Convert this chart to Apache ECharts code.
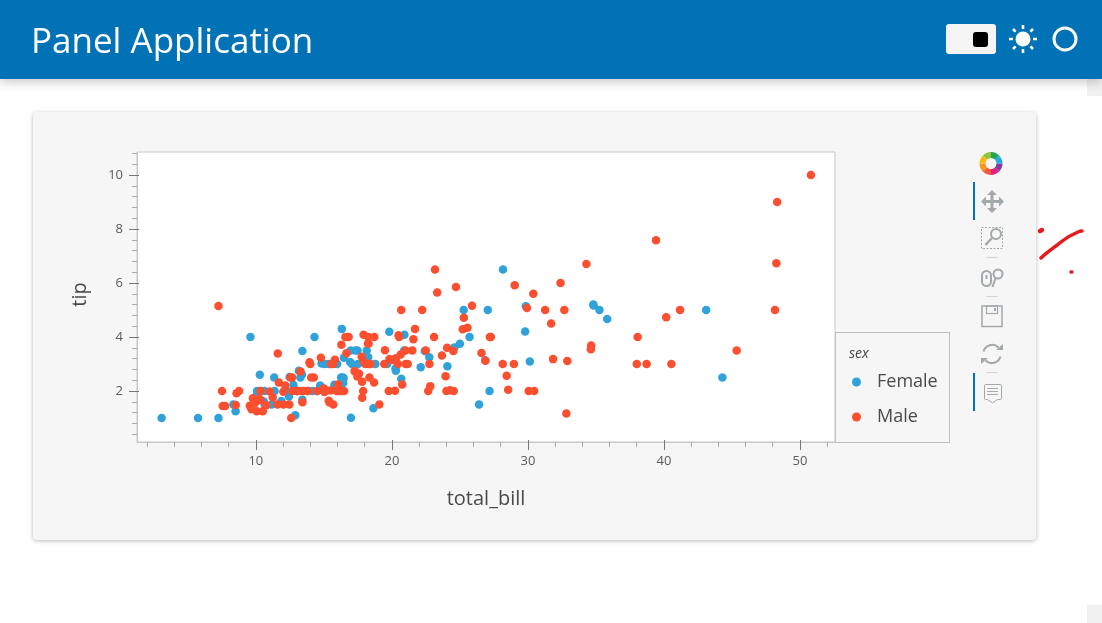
<!DOCTYPE html>
<html>
<head>
<meta charset="utf-8">
<script src="https://cdn.jsdelivr.net/npm/echarts@6/dist/echarts.min.js"></script>
<style>
html,body{margin:0;padding:0;width:1102px;height:623px;overflow:hidden;background:#fff;font-family:"Open Sans",sans-serif}
#hdr{position:absolute;left:0;top:0;width:1102px;height:79px;background:#0072b5;box-shadow:0 3px 10px rgba(0,0,0,.22);z-index:3}
#ttl{position:absolute;left:31px;top:18px;font-size:35px;line-height:44px;color:#fff;white-space:nowrap}
#sb1{position:absolute;left:1087px;top:79px;width:15px;height:17px;background:#f1f1f1}
#sb2{position:absolute;left:1087px;top:605px;width:15px;height:18px;background:#f1f1f1}
#card{position:absolute;left:33px;top:112px;width:1003px;height:428px;background:#f6f6f6;border-radius:4px;box-shadow:0 1px 4px rgba(0,0,0,.28)}
#plotbg{position:absolute;left:137px;top:152px;width:698px;height:290px;background:#fff}
#lgbox{position:absolute;left:835px;top:332px;width:113px;height:109px;border:1px solid #bdbdbd;background:#f6f6f6}
#chart{position:absolute;left:0;top:0;width:1102px;height:623px}
svg{position:absolute;left:0;top:0}
</style>
</head>
<body>
<div id="sb1"></div><div id="sb2"></div>
<div id="card"></div>
<div id="plotbg"></div>
<div id="lgbox"></div>
<div id="chart"></div>
<div id="hdr"><div id="ttl">Panel Application</div></div>
<svg width="1102" height="623" viewBox="0 0 1102 623" style="z-index:4;pointer-events:none">
  <!-- header controls -->
  <rect x="946" y="24" width="50" height="30" rx="3" fill="#f5f5f5"/>
  <rect x="973" y="32" width="15" height="15" rx="3" fill="#000"/>
  <circle cx="1023" cy="39" r="7.5" fill="#fff"/>
  <g stroke="#fff" stroke-width="2.6" stroke-linecap="butt">
    <path d="M1023 25v4M1023 49v4M1009 39h4M1033 39h4M1013 29l2.6 2.6M1033 29l-2.6 2.6M1013 49l2.6-2.6M1033 49l-2.6-2.6"/>
  </g>
  <circle cx="1065" cy="39" r="11" fill="none" stroke="#fff" stroke-width="3"/>
  <!-- toolbar logo -->
  <g fill="none" stroke-width="6">
    <path d="M991 155a8.500 8.500 0 0 1 6 2.500" stroke="#23a455"/>
    <path d="M997 157.500a8.500 8.500 0 0 1 2.500 6" stroke="#27aae1"/>
    <path d="M999.500 163.500a8.500 8.500 0 0 1-2.500 6" stroke="#7a3fa0"/>
    <path d="M997 169.500a8.500 8.500 0 0 1-6 2.500" stroke="#e6207e"/>
    <path d="M991 172a8.500 8.500 0 0 1-6-2.500" stroke="#f15a40"/>
    <path d="M985 169.500a8.500 8.500 0 0 1-2.500-6" stroke="#f7941d"/>
    <path d="M982.500 163.500a8.500 8.500 0 0 1 2.500-6" stroke="#fdb913"/>
    <path d="M985 157.500a8.500 8.500 0 0 1 6-2.500" stroke="#8dc63f"/>
  </g>
  <!-- active bars and separators -->
  <rect x="973" y="182" width="2" height="38" fill="#0072b5"/>
  <rect x="973" y="373" width="2" height="38" fill="#0072b5"/>
  <path d="M986 257.500h12M986 296.500h12M986 372.500h12" stroke="#d5d5d5" stroke-width="1"/>
  <!-- pan -->
  <g fill="#a3a8ab">
    <rect x="990.500" y="193" width="3" height="17"/><rect x="983" y="200" width="18" height="3"/>
    <path d="M992 190l5 5h-10zM992 213l5-5h-10zM981 201.500l5-5v10zM1004 201.500l-5-5v10z"/>
  </g>
  <!-- box zoom -->
  <rect x="981.500" y="227.500" width="21" height="21" fill="none" stroke="#a3a8ab" stroke-dasharray="2 1.500"/>
  <circle cx="996" cy="234" r="5" fill="#f6f6f6" stroke="#a3a8ab" stroke-width="2"/>
  <path d="M992 238l-6.500 7" stroke="#a3a8ab" stroke-width="2.500"/>
  <!-- wheel zoom -->
  <rect x="982" y="271" width="9" height="15" rx="4.500" fill="none" stroke="#a3a8ab" stroke-width="2"/>
  <path d="M986.500 275v4" stroke="#a3a8ab" stroke-width="2"/>
  <circle cx="998" cy="274" r="4.500" fill="none" stroke="#a3a8ab" stroke-width="2"/>
  <path d="M995.500 278l-3 9" stroke="#a3a8ab" stroke-width="2"/>
  <!-- save -->
  <rect x="982" y="306" width="20" height="20.500" fill="none" stroke="#a3a8ab" stroke-width="1.500"/>
  <rect x="986.500" y="306" width="11" height="7.500" fill="none" stroke="#a3a8ab" stroke-width="1.200"/>
  <rect x="994" y="308" width="2" height="3" fill="#a3a8ab"/>
  <!-- reload -->
  <g fill="none" stroke="#a3a8ab" stroke-width="2">
    <path d="M983.500 351.500a9 9 0 0 1 15-4"/><path d="M1000.500 356.500a9 9 0 0 1-15 4"/>
  </g>
  <path d="M996 350h7v-6zM988 358h-7v6z" fill="#a3a8ab"/>
  <!-- hover -->
  <path d="M984.500 385.500q0-1 1-1h15q1 0 1 1v13q0 1-1 1h-3l-5 3.500-5-3.500h-2q-1 0-1-1z" fill="none" stroke="#a3a8ab" stroke-width="1"/>
  <path d="M987 388.500h11M987 391.500h11M987 394.500h11" stroke="#a3a8ab" stroke-width="1.200"/>
  <!-- ink marks -->
  <g stroke="#e8191c" fill="none" stroke-linecap="round">
    <path d="M1041 258c6-6 14-11 20-16c5-4 12-8 18-10.500c1-.5 2-.5 3-.5" stroke-width="3.500"/>
    <path d="M1040 231l2-1" stroke-width="4.500"/>
    <path d="M1071 272l1 0" stroke-width="3.500"/>
  </g>
</svg>
<script>
const legendTitle = 'sex';
const xName = 'total_bill';
const yName = 'tip';
const seriesNames = ['Female', 'Male'];
const seriesColors = ['#30a2da', '#fc4f30'];
const xMajor = [10, 20, 30, 40, 50];
const yMajor = [2, 4, 6, 8, 10];
const xMinor = [2, 4, 6, 8, 12, 14, 16, 18, 22, 24, 26, 28, 32, 34, 36, 38, 42, 44, 46, 48, 52];
const yMinor = [0.4, 0.8, 1.2, 1.6, 2.4, 2.8, 3.2, 3.6, 4.4, 4.8, 5.2, 5.6, 6.4, 6.8, 7.2, 7.6, 8.4, 8.8, 9.2, 9.6, 10.4, 10.8];
const female = [
[16.99,1.01],[24.59,3.61],[35.26,5],[14.83,3.02],[10.33,1.67],[16.97,3.5],[20.29,2.75],[15.77,2.23],[19.65,3],[15.06,3],
[20.69,2.45],[16.93,3.07],[10.29,2.6],[34.81,5.2],[26.41,1.5],[16.45,2.47],[3.07,1],[17.07,3],[26.86,3.14],[25.28,5],
[14.73,2.2],[10.07,1.83],[34.83,5.17],[5.75,1],[16.32,4.3],[22.75,3.25],[11.35,2.5],[15.38,3],[44.3,2.5],[22.42,3.48],
[20.92,4.08],[14.31,4],[7.25,1],[25.71,4],[17.31,3.5],[10.65,1.5],[12.43,1.8],[24.08,2.92],[13.42,1.68],[12.48,2.52],
[29.8,4.2],[14.52,2],[11.38,2],[20.27,2.83],[11.17,1.5],[12.26,2],[18.26,3.25],[8.51,1.25],[10.33,2],[14.15,2],
[13.16,2.75],[17.47,3.5],[27.05,5],[16.43,2.3],[8.35,1.5],[18.64,1.36],[11.87,1.63],[29.85,5.14],[25,3.75],[13.39,2.61],
[16.21,2],[17.51,3],[10.59,1.61],[10.63,2],[9.6,4],[20.9,3.5],[18.15,3.5],[19.81,4.19],[43.11,5],[13,2],
[12.74,2.01],[13,2],[16.4,2.5],[16.47,3.23],[12.76,2.23],[13.27,2.5],[28.17,6.5],[12.9,1.1],[30.14,3.09],[13.42,3.48],
[15.98,3],[16.27,2.5],[10.09,2],[22.12,2.88],[35.83,4.67],[27.18,2],[18.78,3]
];
const male = [
[10.34,1.66],[21.01,3.5],[23.68,3.31],[25.29,4.71],[8.77,2],[26.88,3.12],[15.04,1.96],[14.78,3.23],[10.27,1.71],[15.42,1.57],
[18.43,3],[21.58,3.92],[16.29,3.71],[20.65,3.35],[17.92,4.08],[39.42,7.58],[19.82,3.18],[17.81,2.34],[13.37,2],[12.69,2],
[21.7,4.3],[9.55,1.45],[18.35,2.5],[17.78,3.27],[24.06,3.6],[16.31,2],[18.69,2.31],[31.27,5],[16.04,2.24],[17.46,2.54],
[13.94,3.06],[9.68,1.32],[30.4,5.6],[18.29,3],[22.23,5],[32.4,6],[28.55,2.05],[18.04,3],[12.54,2.5],[9.94,1.56],
[25.56,4.34],[19.49,3.51],[38.01,3],[11.24,1.76],[48.27,6.73],[20.29,3.21],[13.81,2],[11.02,1.98],[18.29,3.76],[17.59,2.64],
[20.08,3.15],[20.23,2.01],[15.01,2.09],[12.02,1.97],[10.51,1.25],[17.92,3.08],[27.2,4],[22.76,3],[17.29,2.71],[19.44,3],
[16.66,3.4],[32.68,5],[15.98,2.03],[13.03,2],[18.28,4],[24.71,5.85],[21.16,3],[28.97,3],[22.49,3.5],[40.17,4.73],
[27.28,4],[12.03,1.5],[21.01,3],[12.46,1.5],[15.36,1.64],[20.49,4.06],[25.21,4.29],[18.24,3.76],[14,3],[38.07,4],
[23.95,2.55],[29.93,5.07],[11.69,2.31],[14.26,2.5],[15.95,2],[8.52,1.48],[22.82,2.18],[19.08,1.5],[16,2],[34.3,6.7],
[41.19,5],[9.78,1.73],[7.51,2],[14.07,2.5],[13.13,2],[17.26,2.74],[24.55,2],[19.77,2],[48.17,5],[21.5,3.5],
[12.66,2.5],[16.49,2],[13.81,2],[24.52,3.48],[20.76,2.24],[31.71,4.5],[50.81,10],[15.81,3.16],[7.25,5.15],[31.85,3.18],
[16.82,4],[32.9,3.11],[17.89,2],[14.48,2],[34.63,3.55],[34.65,3.68],[23.33,5.65],[45.35,3.5],[23.17,6.5],[40.55,3],
[20.69,5],[30.46,2],[23.1,4],[15.69,1.5],[28.44,2.56],[15.48,2.02],[16.58,4],[7.56,1.44],[10.34,2],[13.51,2],
[18.71,4],[20.53,4],[26.59,3.41],[38.73,3],[24.27,2.03],[30.06,2],[25.89,5.16],[48.33,9],[28.15,3],[11.59,1.5],
[7.74,1.44],[12.16,2.2],[8.58,1.92],[13.42,1.58],[20.45,3],[13.28,2.72],[24.01,2],[15.69,3],[11.61,3.39],[10.77,1.47],
[15.53,3],[10.07,1.25],[12.6,1],[32.83,1.17],[29.03,5.92],[22.67,2],[17.82,1.75]
];

const xMin = 1.26, xMax = 52.58, yMin = 0.111, yMax = 10.85;
const FONT = '"Open Sans", sans-serif';
const frameColor = '#c8c8c8';

function tickAxis(base, values, len, inside, color) {
  return Object.assign({
    type: 'value', axisLine: {show: false}, splitLine: {show: false},
    axisLabel: {show: false},
    axisTick: {show: true, length: len, inside: inside, customValues: values, lineStyle: {color: color, width: 1}}
  }, base);
}
const xBase = {min: xMin, max: xMax, position: 'bottom'};
const yBase = {min: yMin, max: yMax, position: 'left'};

const chart = echarts.init(document.getElementById('chart'), null, {renderer: 'canvas'});
chart.setOption({
  animation: false,
  backgroundColor: 'transparent',
  grid: {left: 137, top: 152, width: 698, height: 290, show: true, borderColor: frameColor, borderWidth: 1, backgroundColor: 'transparent'},
  xAxis: [
    {
      type: 'value', min: xMin, max: xMax, position: 'bottom',
      name: xName, nameLocation: 'middle', nameGap: 47,
      nameTextStyle: {fontFamily: FONT, fontSize: 20, color: '#4a4a4a'},
      axisLine: {show: true, lineStyle: {color: frameColor}}, splitLine: {show: false},
      axisTick: {show: true, length: 8, customValues: xMajor, lineStyle: {color: '#777'}},
      axisLabel: {show: true, customValues: xMajor, margin: 13, fontFamily: FONT, fontSize: 13, color: '#5a5a5a', showMinLabel: true, showMaxLabel: true}
    },
    tickAxis(xBase, xMinor, 5, false, '#aaa'),
    tickAxis(xBase, xMajor, 2, true, '#777')
  ],
  yAxis: [
    {
      type: 'value', min: yMin, max: yMax, position: 'left',
      name: yName, nameLocation: 'middle', nameGap: 47, nameRotate: 90,
      nameTextStyle: {fontFamily: FONT, fontSize: 20, color: '#4a4a4a', padding: [0, 0, 0, 5]},
      axisLine: {show: true, lineStyle: {color: frameColor}}, splitLine: {show: false},
      axisTick: {show: true, length: 8, customValues: yMajor, lineStyle: {color: '#777'}},
      axisLabel: {show: true, customValues: yMajor, margin: 14, fontFamily: FONT, fontSize: 13, color: '#5a5a5a'}
    },
    tickAxis(yBase, yMinor, 5, false, '#aaa'),
    tickAxis(yBase, yMajor, 2, true, '#777')
  ],
  legend: {
    show: true, orient: 'vertical', left: 852, top: 373, padding: 0,
    itemWidth: 9, itemHeight: 9, itemGap: 17, icon: 'circle',
    data: seriesNames,
    textStyle: {fontFamily: FONT, fontSize: 18, color: '#4a4a4a', padding: [0, 0, 0, 11]}
  },
  graphic: [{
    type: 'text', left: 849, top: 347, z: 10,
    style: {text: legendTitle, fontFamily: FONT, fontStyle: 'italic', fontSize: 14, fill: '#444'}
  }],
  series: [
    {name: seriesNames[0], type: 'scatter', data: female, symbolSize: 8.5, itemStyle: {color: seriesColors[0], opacity: 1}},
    {name: seriesNames[1], type: 'scatter', data: male, symbolSize: 8.5, itemStyle: {color: seriesColors[1], opacity: 1}}
  ]
});
</script>
</body>
</html>
